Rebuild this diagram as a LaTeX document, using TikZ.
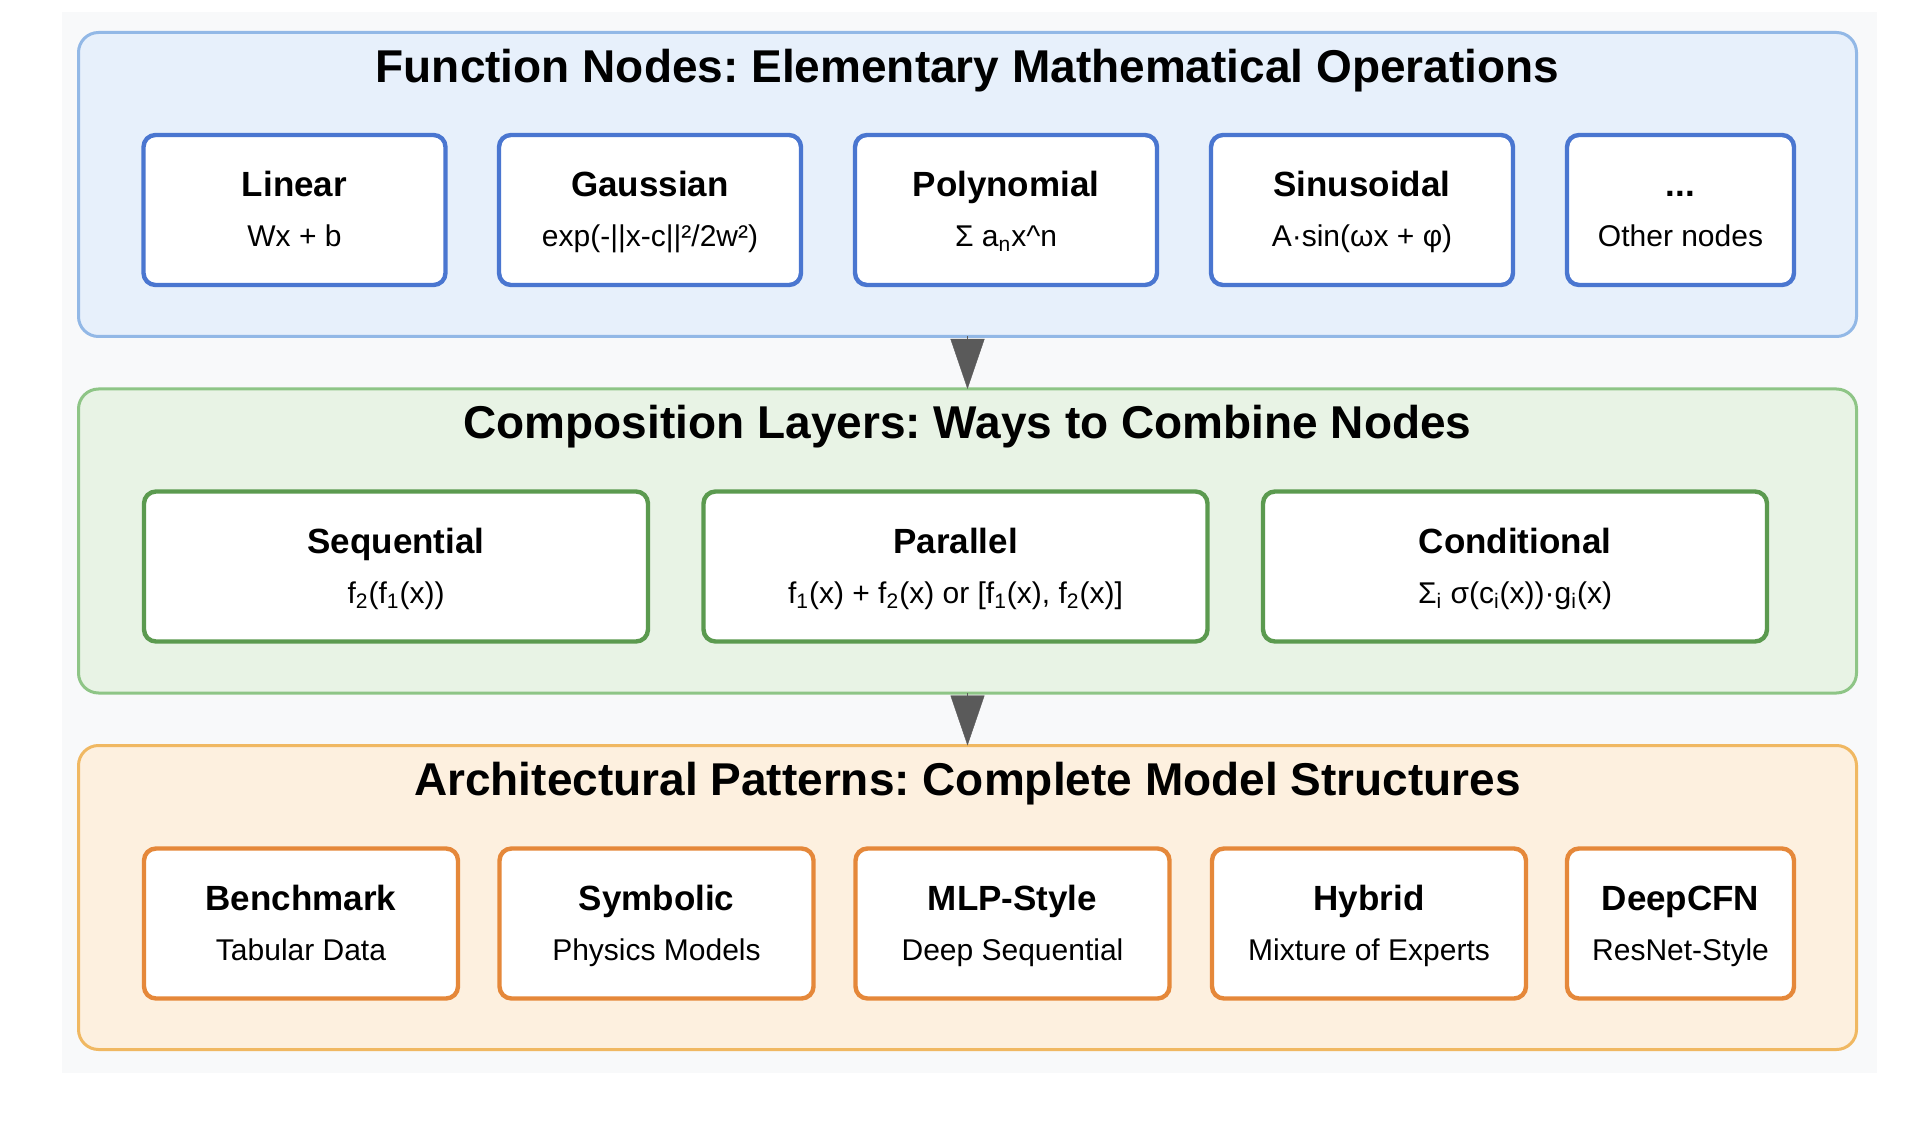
\documentclass[tikz,border=0pt]{standalone}
\usepackage{fontspec}
\setmainfont{Liberation Sans}
\usetikzlibrary{positioning,arrows.meta}
\frenchspacing

\definecolor{bgcol}{HTML}{F8F9FA}
\definecolor{fnfill}{HTML}{E7F0FB}
\definecolor{fnline}{HTML}{92B8E6}
\definecolor{fnedge}{HTML}{4A76D0}
\definecolor{clfill}{HTML}{E8F3E5}
\definecolor{clline}{HTML}{8EC586}
\definecolor{cledge}{HTML}{5B9A4F}
\definecolor{apfill}{HTML}{FDF0DF}
\definecolor{apline}{HTML}{F0B862}
\definecolor{apedge}{HTML}{E5883A}
\definecolor{arrgray}{HTML}{5A5A5A}

\begin{document}
\begin{tikzpicture}
  [x=0.5pt,y=-0.5pt,
   every node/.style={inner sep=0pt, outer sep=0pt},
   panel/.style={rectangle, rounded corners=10pt, line width=1.5pt, minimum width=889pt, minimum height=152pt},
   cell/.style={rectangle, rounded corners=6pt, line width=2.2pt, fill=white, minimum height=75pt},
   panelhead/.style={anchor=base, font=\bfseries\fontsize{23}{27}\selectfont},
   cellhead/.style={anchor=base, font=\bfseries\fontsize{17.5}{21}\selectfont},
   celltext/.style={anchor=base, font=\fontsize{15}{18}\selectfont},
   arr/.style={-{Triangle[width=17pt,length=25pt]}, draw=arrgray, fill=arrgray, line width=0.2pt}]
  \useasboundingbox (0,0) rectangle (1932,1144);
  \fill[bgcol] (62,12) rectangle (1877,1073);

  \node[panel, draw=fnline, fill=fnfill] (fnp) at (967.5,184.5) {};
  \node[panel, draw=clline, fill=clfill] (clp) at (967.5,541) {};
  \node[panel, draw=apline, fill=apfill] (app) at (967.5,897.5) {};

  \node[panelhead] (fnt) at (967.5,83) {Function Nodes: Elementary Mathematical Operations};
  \node[panelhead] (clt) at (967.5,438) {Composition Layers: Ways to Combine Nodes};
  \node[panelhead] (apt) at (967.5,795) {Architectural Patterns: Complete Model Structures};

  \foreach \i/\x/\w/\ttl/\sub in {1/294.5/151pt/Linear/{Wx + b},
      2/650/151pt/Gaussian/{exp(-||x-c||²/2w²)},
      3/1006/151pt/Polynomial/{Σ a\textsubscript{n}x\textasciicircum n},
      4/1362/151pt/Sinusoidal/{A·sin(ωx + φ)},
      5/1680.5/113.5pt/{.\kern0pt.\kern0pt.}/{Other nodes}}
  {
    \node[cell, draw=fnedge, minimum width=\w] (f\i) at (\x,210) {};
    \node[cellhead] (f\i t) at ([yshift=6.5pt]f\i.center) {\ttl};
    \node[celltext] (f\i s) at ([yshift=-18.5pt]f\i.center) {\sub};
  }

  \foreach \i/\x/\ttl/\sub in {1/396/Sequential/{f\textsubscript{2}(f\textsubscript{1}(x))},
      2/955.5/Parallel/{f\textsubscript{1}(x) + f\textsubscript{2}(x) or [f\textsubscript{1}(x), f\textsubscript{2}(x)]},
      3/1515/Conditional/{Σ\textsubscript{i} σ(c\textsubscript{i}(x))·g\textsubscript{i}(x)}}
  {
    \node[cell, draw=cledge, minimum width=252pt] (c\i) at (\x,566.5) {};
    \node[cellhead] (c\i t) at ([yshift=6.5pt]c\i.center) {\ttl};
    \node[celltext] (c\i s) at ([yshift=-18.5pt]c\i.center) {\sub};
  }

  \foreach \i/\x/\w/\ttl/\sub in {1/301/157pt/Benchmark/{Tabular Data},
      2/656.5/157pt/Symbolic/{Physics Models},
      3/1012.5/157pt/MLP-Style/{Deep Sequential},
      4/1369/157pt/Hybrid/{Mixture of Experts},
      5/1680.5/113.5pt/DeepCFN/{ResNet-Style}}
  {
    \node[cell, draw=apedge, minimum width=\w] (a\i) at (\x,923.5) {};
    \node[cellhead] (a\i t) at ([yshift=6.5pt]a\i.center) {\ttl};
    \node[celltext] (a\i s) at ([yshift=-18.5pt]a\i.center) {\sub};
  }

  \draw[arr] (fnp.south) -- (clp.north);
  \draw[arr] (clp.south) -- (app.north);
\end{tikzpicture}
\end{document}
